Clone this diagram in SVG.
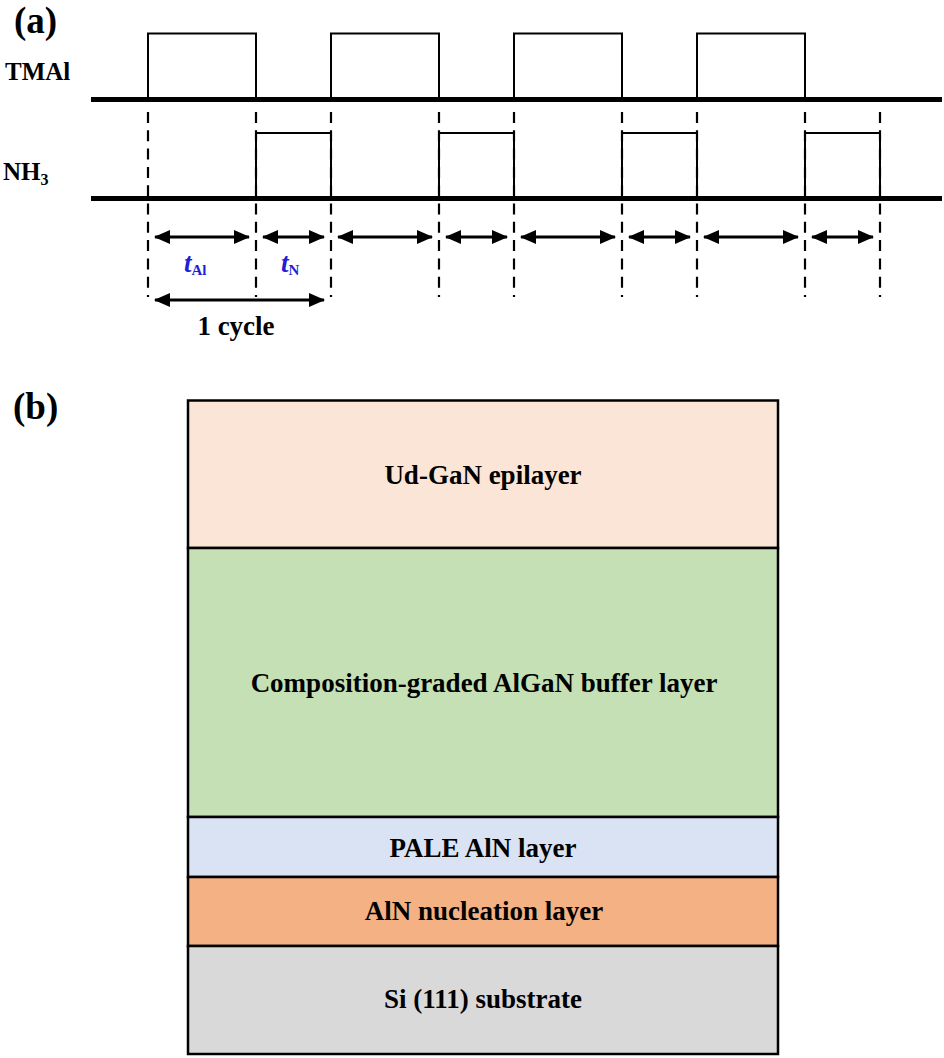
<svg xmlns="http://www.w3.org/2000/svg" width="944" height="1058" viewBox="0 0 944 1058">
<defs>
<style>
text{font-family:'Liberation Serif','Times New Roman',Tinos,'DejaVu Serif',serif;font-weight:bold;fill:#000}
.blue{fill:#1f1fd6}
.pulse{fill:none;stroke:#000;stroke-width:2}
.base{stroke:#000;stroke-width:5}
.dash{stroke:#000;stroke-width:2.2;stroke-dasharray:11 7.3}
.arr{stroke:#000;stroke-width:3;marker-start:url(#ah);marker-end:url(#ah)}
.layer{stroke:#000;stroke-width:2.5}
</style>
<marker id="ah" viewBox="0 0 16 14" refX="15" refY="7" markerWidth="16" markerHeight="14" markerUnits="userSpaceOnUse" orient="auto-start-reverse">
<path d="M0,0 L16,7 L0,14 Z" fill="#000"/>
</marker>
</defs>
<rect width="944" height="1058" fill="#fff"/>

<g id="panel-a">
<text font-family="Liberation Serif, serif" x="14" y="33" font-size="37">(a)</text>
<text font-family="Liberation Serif, serif" x="5" y="80" font-size="25">TMAl</text>
<text font-family="Liberation Serif, serif" x="3" y="180" font-size="25">NH<tspan font-size="16" dy="5">3</tspan></text>
</g>

<g id="connectors">
<g id="dashes">
<line class="dash" x1="148" y1="112" x2="148" y2="297"/>
<line class="dash" x1="256" y1="112" x2="256" y2="297"/>
<line class="dash" x1="331" y1="112" x2="331" y2="297"/>
<line class="dash" x1="439" y1="112" x2="439" y2="297"/>
<line class="dash" x1="514" y1="112" x2="514" y2="297"/>
<line class="dash" x1="622" y1="112" x2="622" y2="297"/>
<line class="dash" x1="697" y1="112" x2="697" y2="297"/>
<line class="dash" x1="805" y1="112" x2="805" y2="297"/>
<line class="dash" x1="880" y1="112" x2="880" y2="297"/>
</g>
<g id="arrows">
<line class="arr" x1="155" y1="237" x2="249" y2="237"/>
<line class="arr" x1="263" y1="237" x2="324" y2="237"/>
<line class="arr" x1="338" y1="237" x2="432" y2="237"/>
<line class="arr" x1="446" y1="237" x2="507" y2="237"/>
<line class="arr" x1="521" y1="237" x2="615" y2="237"/>
<line class="arr" x1="629" y1="237" x2="690" y2="237"/>
<line class="arr" x1="704" y1="237" x2="798" y2="237"/>
<line class="arr" x1="812" y1="237" x2="873" y2="237"/>
<line class="arr" x1="155" y1="300" x2="324" y2="300"/>
</g>
</g>

<g id="tmal-signal">
<path class="pulse" d="M148,99 V33.5 H256 V99 M331,99 V33.5 H439 V99 M514,99 V33.5 H622 V99 M697,99 V33.5 H805 V99"/>
<line class="base" x1="91" y1="99.5" x2="942" y2="99.5"/>
</g>
<g id="nh3-signal">
<path class="pulse" d="M256,198 V133 H331 V198 M439,198 V133 H514 V198 M622,198 V133 H697 V198 M805,198 V133 H880 V198"/>
<line class="base" x1="91" y1="198.5" x2="942" y2="198.5"/>
</g>

<g id="labels-a">
<text class="blue" font-family="Liberation Serif, serif" x="184" y="272" font-size="27" font-style="italic">t<tspan font-size="15" font-style="normal" dy="3">Al</tspan></text>
<text class="blue" font-family="Liberation Serif, serif" x="281" y="272" font-size="27" font-style="italic">t<tspan font-size="15" font-style="normal" dy="3">N</tspan></text>
<text font-family="Liberation Serif, serif" x="236" y="335" font-size="27" text-anchor="middle">1 cycle</text>
</g>

<g id="panel-b">
<text font-family="Liberation Serif, serif" x="13" y="419" font-size="37">(b)</text>
</g>

<g id="layer-udgan">
<rect class="layer" x="188" y="400.5" width="590" height="147.5" fill="#FBE5D6"/>
<text font-family="Liberation Serif, serif" x="483" y="484" font-size="27" text-anchor="middle">Ud-GaN epilayer</text>
</g>
<g id="layer-algan">
<rect class="layer" x="188" y="548" width="590" height="269" fill="#C5E0B4"/>
<text font-family="Liberation Serif, serif" x="484" y="692" font-size="27" text-anchor="middle">Composition-graded AlGaN buffer layer</text>
</g>
<g id="layer-pale">
<rect class="layer" x="188" y="817" width="590" height="60" fill="#DAE3F3"/>
<text font-family="Liberation Serif, serif" x="483" y="857" font-size="27" text-anchor="middle">PALE AlN layer</text>
</g>
<g id="layer-nucleation">
<rect class="layer" x="188" y="877" width="590" height="69" fill="#F4B183"/>
<text font-family="Liberation Serif, serif" x="484" y="920" font-size="27" text-anchor="middle">AlN nucleation layer</text>
</g>
<g id="layer-si">
<rect class="layer" x="188" y="946" width="590" height="108" fill="#D9D9D9"/>
<text font-family="Liberation Serif, serif" x="483" y="1008" font-size="27" text-anchor="middle">Si (111) substrate</text>
</g>
</svg>
